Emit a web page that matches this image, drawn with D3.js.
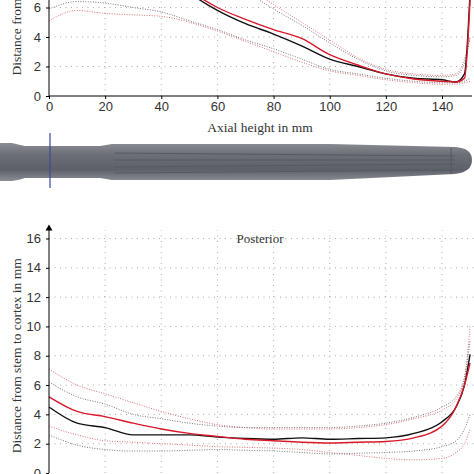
<!DOCTYPE html><html><head><meta charset="utf-8"><script src="https://cdn.jsdelivr.net/npm/d3@7"></script>
<style>body{margin:0;background:#fff}svg{font-family:"Liberation Serif","DejaVu Serif",serif}</style></head><body><svg id="c" width="474" height="474"></svg>
<script>
const xs=[0,10,20,30,40,50,60,70,80,90,100,110,120,130,140,145,148,150];
const xTicks=[0,20,40,60,80,100,120,140];
const yTicks=[0,2,4,6,8,10,12,14,16];
// Top panel (anterior, cropped)
const topBlack=[10,10.8,10.5,9.6,8.6,7,5.8,4.9,4.2,3.4,2.5,2.0,1.5,1.2,1.1,0.95,1.5,7];
const topRed=[10.4,11.2,10.9,10,9,7.2,6.0,5.2,4.5,3.9,2.8,2.1,1.5,1.15,1.0,0.95,1.2,6.5];
const topRedUp=[12,13,13,12.5,11.5,10,8.7,7.5,6.2,5,3.8,2.6,1.8,1.5,1.4,1.5,2.5,4];
const topDarkUp=[11.5,12.5,12.4,12,11,9.6,8.3,7.1,5.9,4.8,3.6,2.5,1.7,1.4,1.3,1.4,2.2,4];
const topRedLo=[5.1,5.8,5.6,5.5,5.4,5,4.4,3.7,3.0,2.3,1.7,1.4,1.1,0.9,0.8,0.8,0.9,1];
const topDarkLo=[5.9,6.4,6.3,6.0,5.7,5.1,4.5,3.8,3.2,2.5,1.8,1.5,1.2,1.0,0.9,0.9,1.0,1.2];
// Bottom panel (posterior)
const botBlack=[4.5,3.4,3.1,2.6,2.6,2.6,2.45,2.35,2.3,2.4,2.3,2.35,2.4,2.7,3.5,4.5,6,8.1];
const botRed=[5.2,4.2,3.85,3.4,3.0,2.7,2.5,2.3,2.2,2.1,2.05,2.1,2.15,2.4,3.2,4.5,6,7.5];
const botRedUp=[7.1,6,5.4,4.8,4.2,3.7,3.3,3.1,3.0,3.0,3.0,3.1,3.3,3.7,4.3,5,6.5,10];
const botDarkUp=[6.2,5.2,4.7,4.0,3.7,3.4,3.2,3.1,3.1,3.1,3.1,3.2,3.4,3.8,4.5,5.2,6.5,9];
const botRedLo=[3.2,2.6,2.2,2.1,2.0,1.9,1.8,1.75,1.7,1.6,1.4,1.2,1.0,0.9,1.0,1.4,2,3];
const botDarkLo=[2.6,1.9,1.6,1.5,1.5,1.55,1.6,1.55,1.5,1.4,1.3,1.35,1.4,1.5,1.8,2.2,3,4];

const svg=d3.select("#c");
const x=d3.scaleLinear().domain([0,140]).range([49,442]);
function panel(y0,y16,data,title,xlabel){
  const y=d3.scaleLinear().domain([0,16]).range([y0,y16]);
  const g=svg.append("g");
  const gridC="#aaa";
  yTicks.filter(t=>t>0).forEach(t=>g.append("line").attr("x1",49).attr("x2",474).attr("y1",y(t)).attr("y2",y(t)).attr("stroke",gridC).attr("stroke-dasharray","1,4.5"));
  xTicks.filter(t=>t>0).forEach(t=>g.append("line").attr("x1",x(t)).attr("x2",x(t)).attr("y1",y(0)).attr("y2",y(16)-8).attr("stroke",gridC).attr("stroke-dasharray","1,4.5"));
  const line=d3.line().x((d,i)=>x(xs[i])).y(d=>y(d)).curve(d3.curveMonotoneX);
  [[data[2],"#e0707a"],[data[3],"#777"],[data[4],"#e0707a"],[data[5],"#777"]].forEach(([d,c])=>g.append("path").attr("d",line(d)).attr("fill","none").attr("stroke",c).attr("stroke-width",1).attr("stroke-dasharray","1,1.5"));
  g.append("path").attr("d",line(data[0])).attr("fill","none").attr("stroke","#111").attr("stroke-width",1.4);
  g.append("path").attr("d",line(data[1])).attr("fill","none").attr("stroke","#d9182a").attr("stroke-width",1.4);
  const ya=d3.axisLeft(y).tickValues(yTicks).tickSize(3).tickFormat(d3.format("d"));
  const ga=g.append("g").attr("transform","translate(49,0)").call(ya);
  ga.select(".domain").attr("d",`M0,${y(0)}V${y(16)-12}`);
  ga.selectAll("text").attr("font-size",13).attr("fill","#333").attr("dx",-2);
  g.append("path").attr("d",`M45.5,${y(16)-8}L49,${y(16)-14}L52.5,${y(16)-8}Z`).attr("fill","#000");
  g.append("text").attr("transform",`translate(21,${(y(0)+y(16))/2}) rotate(-90)`).attr("text-anchor","middle").attr("font-size",13.5).attr("fill","#333").text("Distance from stem to cortex in mm");
  if(title) g.append("text").attr("x",260).attr("y",y(16)+4).attr("text-anchor","middle").attr("font-size",13).attr("fill","#333").text(title);
  if(xlabel){
    const xa=d3.axisBottom(x).tickValues(xTicks).tickSize(3);
    const gx=g.append("g").attr("transform",`translate(0,${y(0)})`).call(xa);
    gx.select(".domain").attr("d",`M49,0H472`);
    gx.selectAll("text").attr("font-size",13).attr("fill","#333");
    g.append("text").attr("x",260).attr("y",y(0)+36).attr("text-anchor","middle").attr("font-size",13.5).attr("fill","#333").text(xlabel);
  }
}
panel(96,-140,[topBlack,topRed,topRedUp,topDarkUp,topRedLo,topDarkLo],null,"Axial height in mm");
panel(473,238.5,[botBlack,botRed,botRedUp,botDarkUp,botRedLo,botDarkLo],"Posterior",null);
// stem picture
const defs=svg.append("defs");
const gr=defs.append("linearGradient").attr("id","sg").attr("x1",0).attr("y1",0).attr("x2",0).attr("y2",1);
[[0,"#8a8d93"],[0.3,"#6c6f76"],[0.7,"#5d6068"],[1,"#8a8d93"]].forEach(([o,c])=>gr.append("stop").attr("offset",o).attr("stop-color",c));
svg.append("path").attr("d","M0,143 L12,143 Q20,145 25,146 L100,146 L112,144 L330,144 L455,147 Q472,148 472,160 Q472,172 455,174 L330,180 L112,180 L100,178 L25,178 Q20,180 12,181 L0,181 Z").attr("fill","url(#sg)");
svg.append("path").attr("d","M115,153 L455,156 M115,160 L455,160 M115,167 L455,164 M115,173 L455,170").attr("stroke","#555960").attr("stroke-width",1).attr("fill","none");
svg.append("line").attr("x1",451).attr("x2",451).attr("y1",148).attr("y2",174).attr("stroke","#55585f");
svg.append("line").attr("x1",50).attr("x2",50).attr("y1",133).attr("y2",188).attr("stroke","#3b4a9c").attr("stroke-width",1.2);
</script></body></html>
